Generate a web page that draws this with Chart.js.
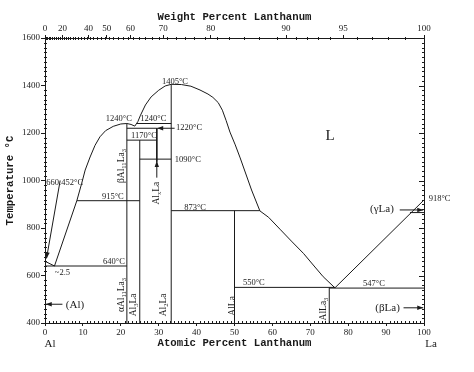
<!DOCTYPE html>
<html>
<head>
<meta charset="utf-8">
<script src="https://cdn.jsdelivr.net/npm/chart.js@4.4.0/dist/chart.umd.min.js"></script>
<style>
  html, body { margin: 0; padding: 0; background: #fff; }
  #wrap { width: 474px; height: 372px; }
</style>
</head>
<body>
<div id="wrap"><canvas id="myChart" width="474" height="372"></canvas></div>
<script>
// Al-La phase diagram, x = atomic % La, y = temperature (°C)

// top axis: weight % La labels and where they sit on the at.% scale
const wtTickLabels = [0, 20, 40, 50, 60, 70, 80, 90, 95, 100];
const wtTickAt = [0, 4.63, 11.46, 16.27, 22.56, 31.19, 43.73, 63.6, 78.7, 100];

// liquidus curves
const alLiquidus = [[0, 660], [2.5, 640]];
const leftLiquidus = [[2.5, 640], [8.4, 915], [9.7, 989], [10.6, 1044], [11.9, 1099], [13.2, 1148], [14.5, 1184],
  [16, 1210], [18, 1228], [20, 1238], [21.6, 1240], [22.7, 1236], [23.7, 1229]];
const al2LaLiquidusLeft = [[23.7, 1229], [24.5, 1248], [25.2, 1275], [26.5, 1318], [28, 1352], [30, 1380], [31.7, 1398], [33.3, 1405]];
const al2LaLiquidusRight = [[33.3, 1405], [36, 1404], [38.5, 1397], [40.9, 1381], [43, 1364], [44.3, 1350], [45.7, 1328],
  [46.8, 1296], [47.8, 1252], [48.8, 1204], [50.2, 1150], [51.5, 1095], [54.5, 960], [56.7, 872]];
const lowLiquidus = [[56.7, 872], [59, 845], [62, 795], [65, 745], [68.2, 693], [71, 640], [73.4, 595], [76.5, 548]];
const laLiquidus = [[76.5, 548], [100, 918]];

// compounds (vertical) and invariant lines (horizontal)
const phaseLines = [
  [[21.6, 400], [21.6, 1240]],
  [[25, 400], [25, 1170]],
  [[29.5, 1220], [29.5, 1080]],
  [[33.3, 400], [33.3, 1405]],
  [[50, 400], [50, 873]],
  [[75, 400], [75, 550]],
  [[0, 640], [21.6, 640]],
  [[8.4, 915], [25, 915]],
  [[21.6, 1170], [29.5, 1170]],
  [[21.6, 1220], [29.5, 1220]],
  [[24.2, 1240], [33.3, 1240]],
  [[25, 1090], [33.3, 1090]],
  [[33.3, 873], [56.7, 873]],
  [[50, 550], [76.5, 550]],
  [[75, 547], [100, 547]],
  [[96.3, 865], [100, 865]]
];

// leader arrows, head at the last point
const arrows = [
  [[4.0, 1000], [0.4, 672]],
  [[4.6, 479], [0.2, 479]],
  [[93.6, 876], [99.8, 876]],
  [[94.6, 464], [99.8, 464]],
  [[34.2, 1220], [29.6, 1220]],
  [[29.5, 1012], [29.5, 1082]]
];

const tempLabels = [
  ['660.452°C', 5.2, 991],
  ['~2.5', 4.6, 610],
  ['640°C', 18.2, 658],
  ['915°C', 17.9, 932],
  ['1240°C', 19.5, 1259],
  ['1240°C', 28.6, 1259],
  ['1220°C', 38.0, 1220],
  ['1170°C', 26.1, 1187],
  ['1090°C', 37.7, 1089],
  ['1405°C', 34.3, 1416],
  ['873°C', 39.6, 885],
  ['550°C', 55.1, 568],
  ['547°C', 86.8, 564],
  ['918°C', 104.1, 922]
];

const regionLabels = [
  ['(Al)', 7.9, 477, 11],
  ['(γLa)', 88.9, 880, 11],
  ['(βLa)', 90.4, 464, 11],
  ['L', 75.2, 1187, 15]
];

// rotated compound names, [text, subscript?]
const phaseNames = [
  [[['α', 0], ['Al', 0], ['11', 1], ['La', 0], ['3', 1]], 20.2, 518],
  [[['β', 0], ['Al', 0], ['11', 1], ['La', 0], ['3', 1]], 20.2, 1061],
  [[['Al', 0], ['3', 1], ['La', 0]], 23.3, 476],
  [[['Al', 0], ['x', 1], ['La', 0]], 29.5, 947],
  [[['Al', 0], ['2', 1], ['La', 0]], 31.2, 476],
  [[['AlLa', 0]], 49.4, 472],
  [[['AlLa', 0], ['3', 1]], 73.4, 459]
];

const ink = '#1a1a1a';
const serif = '"Liberation Serif", "DejaVu Serif", serif';
const mono = '"Liberation Mono", "DejaVu Sans Mono", monospace';

function toPts(arr) { return arr.map(p => ({ x: p[0], y: p[1] })); }
function lineSet(arr) {
  return { data: toPts(arr), showLine: true, borderColor: ink, borderWidth: 1, pointRadius: 0, tension: 0, fill: false };
}

const datasets = [];
[alLiquidus, leftLiquidus, al2LaLiquidusLeft, al2LaLiquidusRight, lowLiquidus, laLiquidus].forEach(c => datasets.push(lineSet(c)));
phaseLines.forEach(l => datasets.push(lineSet(l)));
arrows.forEach(a => datasets.push(lineSet(a)));

function wtToAt(w) {
  const la = w / 138.905, al = (100 - w) / 26.982;
  return 100 * la / (la + al);
}

function drawRich(ctx, parts, size) {
  let w = 0;
  parts.forEach(p => { ctx.font = (p[1] ? size * 0.7 : size) + 'px ' + serif; w += ctx.measureText(p[0]).width; });
  let x = -w / 2;
  parts.forEach(p => {
    const s = p[1] ? size * 0.7 : size;
    ctx.font = s + 'px ' + serif;
    ctx.fillText(p[0], x, p[1] ? size * 0.3 : 0);
    x += ctx.measureText(p[0]).width;
  });
}

const minorTicks = {
  id: 'minorTicks',
  afterDraw(chart) {
    const ctx = chart.ctx, a = chart.chartArea;
    const xs = chart.scales.x, ys = chart.scales.y;
    ctx.save();
    ctx.strokeStyle = ink;
    ctx.lineWidth = 1;
    ctx.beginPath();
    for (let v = 0; v <= 100; v++) {
      if (v % 10 === 0) continue;
      const px = Math.round(xs.getPixelForValue(v)) + 0.5;
      ctx.moveTo(px, a.bottom - 2); ctx.lineTo(px, a.bottom + 1);
    }
    for (let w = 1; w < 100; w += (w < 90 ? 2 : 1)) {
      if (wtTickLabels.includes(w)) continue;
      const px = Math.round(xs.getPixelForValue(wtToAt(w))) + 0.5;
      ctx.moveTo(px, a.top - 1); ctx.lineTo(px, a.top + 2);
    }
    for (let t = 400; t <= 1600; t += 20) {
      const py = Math.round(ys.getPixelForValue(t)) + 0.5;
      const major = t % 200 === 0;
      if (!major) { ctx.moveTo(a.left - 1, py); ctx.lineTo(a.left + 2, py); }
      ctx.moveTo(a.right + 1, py); ctx.lineTo(a.right - (major ? 5 : 2), py);
    }
    ctx.stroke();
    ctx.restore();
  }
};

const notes = {
  id: 'notes',
  afterDatasetsDraw(chart) {
    const ctx = chart.ctx, a = chart.chartArea;
    const xs = chart.scales.x, ys = chart.scales.y;
    ctx.save();
    ctx.fillStyle = ink;
    // arrow heads
    arrows.forEach(arr => {
      const p0 = arr[arr.length - 2], p1 = arr[arr.length - 1];
      const x0 = xs.getPixelForValue(p0[0]), y0 = ys.getPixelForValue(p0[1]);
      const x1 = xs.getPixelForValue(p1[0]), y1 = ys.getPixelForValue(p1[1]);
      const ang = Math.atan2(y1 - y0, x1 - x0);
      ctx.save();
      ctx.translate(x1, y1);
      ctx.rotate(ang);
      ctx.beginPath();
      ctx.moveTo(0, 0); ctx.lineTo(-6, -2.2); ctx.lineTo(-6, 2.2); ctx.closePath();
      ctx.fill();
      ctx.restore();
    });
    ctx.textAlign = 'center';
    ctx.textBaseline = 'middle';
    ctx.font = '8.5px ' + serif;
    tempLabels.forEach(l => {
      ctx.fillText(l[0], xs.getPixelForValue(l[1]), ys.getPixelForValue(l[2]));
    });
    regionLabels.forEach(l => {
      ctx.font = l[3] + 'px ' + serif;
      ctx.fillText(l[0], xs.getPixelForValue(l[1]), ys.getPixelForValue(l[2]));
    });
    ctx.textAlign = 'left';
    phaseNames.forEach(n => {
      ctx.save();
      ctx.translate(xs.getPixelForValue(n[1]), ys.getPixelForValue(n[2]));
      ctx.rotate(-Math.PI / 2);
      drawRich(ctx, n[0], 9.5);
      ctx.restore();
    });
    // element names under the ends of the axis
    ctx.textAlign = 'center';
    ctx.font = '11px ' + serif;
    ctx.fillText('Al', xs.getPixelForValue(0) + 5, a.bottom + 21);
    ctx.fillText('La', xs.getPixelForValue(100) + 7, a.bottom + 21);
    ctx.restore();
  }
};

const tickFont = { family: serif, size: 9 };
const titleFont = { family: mono, size: 10.7, weight: 'bold' };

const ctx = document.getElementById('myChart').getContext('2d');
new Chart(ctx, {
  type: 'scatter',
  data: { datasets: datasets },
  options: {
    responsive: false,
    animation: false,
    layout: { padding: 0 },
    plugins: { legend: { display: false }, tooltip: { enabled: false } },
    scales: {
      x: {
        type: 'linear', position: 'bottom', min: 0, max: 100,
        ticks: { stepSize: 10, font: tickFont, color: ink, padding: 1, maxRotation: 0, autoSkip: false, callback: v => String(v) },
        grid: { drawOnChartArea: false, tickLength: 3, color: ink },
        border: { color: ink },
        title: { display: true, text: 'Atomic Percent Lanthanum', font: titleFont, color: ink, padding: { top: 0, bottom: 22.7 } },
        afterFit(s) { s.height = 49; }
      },
      xTop: {
        type: 'linear', position: 'top', min: 0, max: 100,
        afterBuildTicks(s) { s.ticks = wtTickAt.map(v => ({ value: v })); },
        ticks: { callback: (v, i) => String(wtTickLabels[i]), font: tickFont, color: ink, padding: 1, maxRotation: 0, autoSkip: false },
        grid: { drawOnChartArea: false, tickLength: 3, color: ink },
        border: { color: ink },
        title: { display: true, text: 'Weight Percent Lanthanum', font: titleFont, color: ink, padding: { top: 11.2, bottom: 0 } },
        afterFit(s) { s.height = 38; }
      },
      y: {
        type: 'linear', position: 'left', min: 400, max: 1600,
        ticks: { stepSize: 200, font: tickFont, color: ink, padding: 1, callback: v => String(v) },
        grid: { drawOnChartArea: false, tickLength: 4, color: ink },
        border: { color: ink },
        title: { display: true, text: 'Temperature °C', font: titleFont, color: ink, padding: { top: 3.6, bottom: 0 } },
        afterFit(s) { s.width = 45; }
      },
      yRight: {
        type: 'linear', position: 'right', min: 400, max: 1600,
        ticks: { display: false },
        grid: { display: false },
        border: { display: true, color: ink },
        afterFit(s) { s.width = 50; }
      }
    }
  },
  plugins: [minorTicks, notes]
});
</script>
</body>
</html>
